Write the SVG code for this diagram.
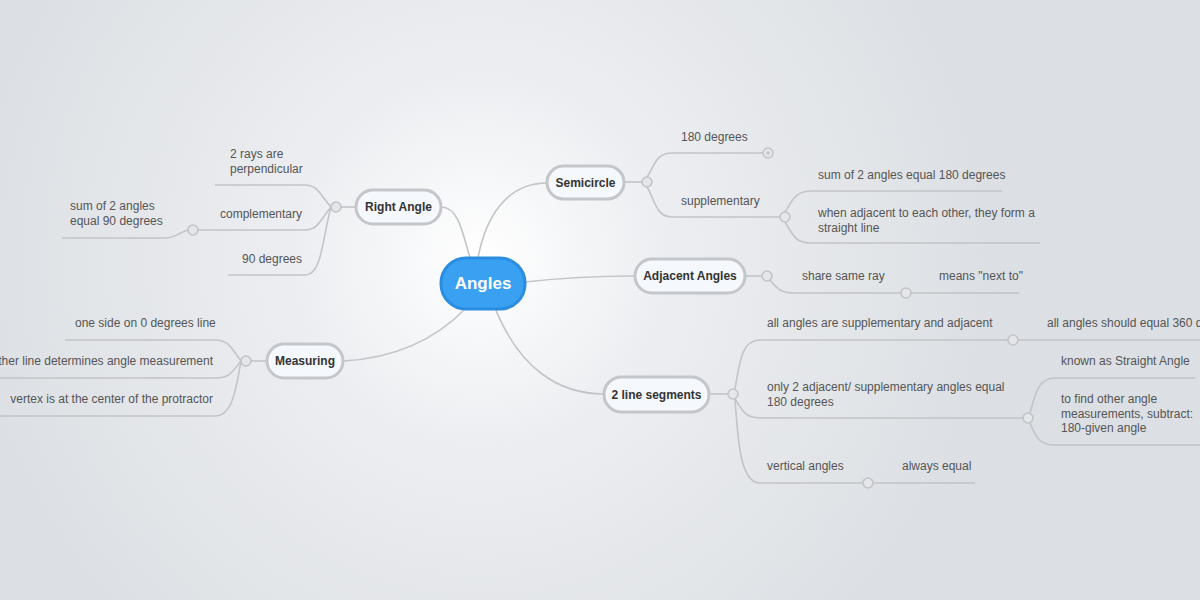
<svg xmlns="http://www.w3.org/2000/svg" width="1200" height="600" viewBox="0 0 1200 600">
<defs>
<radialGradient id="bg" cx="480" cy="260" r="520" gradientUnits="userSpaceOnUse">
<stop offset="0" stop-color="#ffffff"/><stop offset="0.35" stop-color="#eceef1"/><stop offset="1" stop-color="#dcdfe3"/>
</radialGradient>
<style>
.l{fill:none;stroke:#c2c4c7;stroke-width:1.6}
.j{fill:#e4e6e9;stroke:#c2c4c7;stroke-width:1.6}
.t{font-family:"Liberation Sans",Arial,sans-serif;font-size:12px;fill:#555}
.n rect{fill:#f5f8fc;stroke:#c4c6c9;stroke-width:3}
.n text{font-family:"Liberation Sans",Arial,sans-serif;font-size:12px;font-weight:bold;fill:#333;text-anchor:middle}
.e{text-anchor:end}
</style>
</defs>
<rect width="1200" height="600" fill="url(#bg)"/>
<g id="connectors">
<path class="l" d="M441,207 C458,207 462,230 470,258"/>
<path class="l" d="M478,258 C485,220 505,183 547,183"/>
<path class="l" d="M525,282 C560,278 600,276 635,276"/>
<path class="l" d="M343,361 C400,358 440,335 466,308"/>
<path class="l" d="M495,308 C520,370 560,394 604,394"/>
<!-- right angle -->
<path class="l" d="M356,207 H341"/>
<path class="l" d="M331,207 C320,195 318,185 305,185 H215"/>
<path class="l" d="M331,207 C320,220 318,230 305,230 H198"/>
<path class="l" d="M331,207 C322,240 322,275 305,275 H228"/>
<path class="l" d="M188,230 C180,232 175,238 165,238 H62"/>
<!-- measuring -->
<path class="l" d="M267,361 H251"/>
<path class="l" d="M241,361 C232,350 230,340 215,340 H65"/>
<path class="l" d="M241,361 C232,372 230,378 215,378 H0"/>
<path class="l" d="M241,361 C236,390 232,416 215,416 H0"/>
<!-- semicircle -->
<path class="l" d="M624,182 H642"/>
<path class="l" d="M647,177 C655,165 656,153 672,153 H763"/>
<path class="l" d="M647,187 C655,200 656,217 672,217 H780"/>
<path class="l" d="M785,212 C793,200 795,191 812,191 H1002"/>
<path class="l" d="M785,222 C793,235 795,243 812,243 H1040"/>
<!-- adjacent -->
<path class="l" d="M745,276 H762"/>
<path class="l" d="M770,280 C778,290 782,293 795,293 H901"/>
<path class="l" d="M911,293 H1019"/>
<!-- 2 line segments -->
<path class="l" d="M709,394 H728"/>
<path class="l" d="M735,389 C740,360 742,340 760,340 H1008"/>
<path class="l" d="M1018,340 H1200"/>
<path class="l" d="M735,399 C742,410 745,418 760,418 H1023"/>
<path class="l" d="M735,399 C738,440 740,483 760,483 H863"/>
<path class="l" d="M873,483 H975"/>
<path class="l" d="M1030,413 C1035,395 1038,378 1055,378 H1195"/>
<path class="l" d="M1030,423 C1035,435 1038,445 1055,445 H1200"/>
<circle class="j" cx="336" cy="207" r="5"/>
<circle class="j" cx="193" cy="230" r="5"/>
<circle class="j" cx="246" cy="361" r="5"/>
<circle class="j" cx="647" cy="182" r="5"/>
<circle class="j" cx="768" cy="153" r="5"/><circle cx="768" cy="153" r="1.8" fill="#c2c4c7"/>
<circle class="j" cx="785" cy="217" r="5"/>
<circle class="j" cx="767" cy="276" r="5"/>
<circle class="j" cx="906" cy="293" r="5"/>
<circle class="j" cx="733" cy="394" r="5"/>
<circle class="j" cx="1013" cy="340" r="5"/>
<circle class="j" cx="1028" cy="418" r="5"/>
<circle class="j" cx="868" cy="483" r="5"/>
</g>
<g id="angles"><rect x="441" y="258" width="84" height="51" rx="25" fill="#3aa0f2" stroke="#2a8de0" stroke-width="3"/><text x="483" y="289" font-family="Liberation Sans,Arial,sans-serif" font-size="17" font-weight="bold" fill="#fff" text-anchor="middle">Angles</text></g>
<g id="right-angle" class="n"><rect x="356" y="190" width="85" height="34" rx="17"/><text x="398.5" y="211">Right Angle</text></g>
<g id="semicircle" class="n"><rect x="547" y="166" width="77" height="33" rx="16.5"/><text x="585.5" y="187">Semicircle</text></g>
<g id="adjacent" class="n"><rect x="635" y="259" width="110" height="34" rx="17"/><text x="690" y="280">Adjacent Angles</text></g>
<g id="measuring" class="n"><rect x="267" y="344" width="76" height="34" rx="17"/><text x="305" y="365">Measuring</text></g>
<g id="segments" class="n"><rect x="604" y="377" width="105" height="35" rx="17.5"/><text x="656.5" y="399">2 line segments</text></g>
<g id="labels">
<text class="t" x="230" y="158">2 rays are</text><text class="t" x="230" y="173">perpendicular</text>
<text class="t e" x="302" y="218">complementary</text>
<text class="t e" x="302" y="263">90 degrees</text>
<text class="t" x="70" y="210">sum of 2 angles</text><text class="t" x="70" y="225">equal 90 degrees</text>
<text class="t" x="75" y="327">one side on 0 degrees line</text>
<text class="t e" x="213" y="365">other line determines angle measurement</text>
<text class="t e" x="213" y="403">vertex is at the center of the protractor</text>
<text class="t" x="681" y="141">180 degrees</text>
<text class="t" x="681" y="205">supplementary</text>
<text class="t" x="818" y="179">sum of 2 angles equal 180 degrees</text>
<text class="t" x="818" y="217">when adjacent to each other, they form a</text><text class="t" x="818" y="232">straight line</text>
<text class="t" x="802" y="280">share same ray</text>
<text class="t" x="939" y="280">means "next to"</text>
<text class="t" x="767" y="327">all angles are supplementary and adjacent</text>
<text class="t" x="1047" y="327">all angles should equal 360 degrees</text>
<text class="t" x="767" y="391">only 2 adjacent/ supplementary angles equal</text><text class="t" x="767" y="406">180 degrees</text>
<text class="t" x="1061" y="365">known as Straight Angle</text>
<text class="t" x="1061" y="403">to find other angle</text><text class="t" x="1061" y="418">measurements, subtract:</text><text class="t" x="1061" y="432">180-given angle</text>
<text class="t" x="767" y="470">vertical angles</text>
<text class="t" x="902" y="470">always equal</text>
</g>
</svg>
